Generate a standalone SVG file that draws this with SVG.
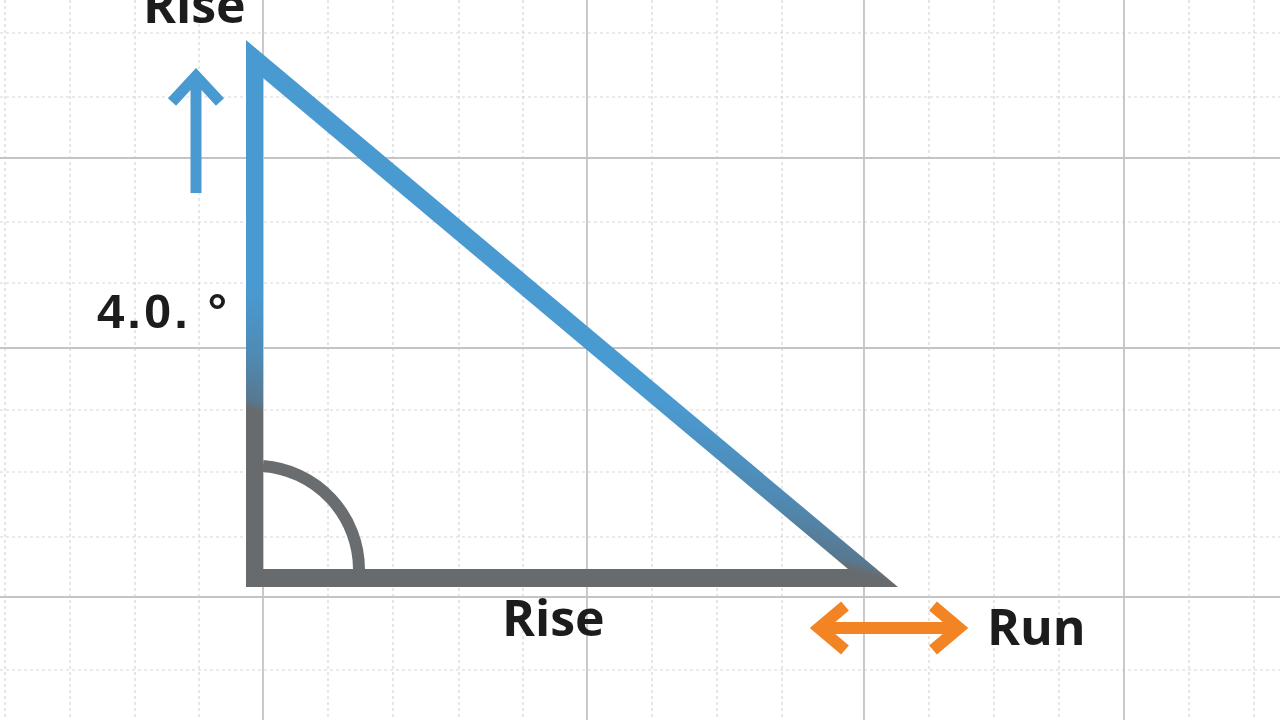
<svg xmlns="http://www.w3.org/2000/svg" width="1280" height="720" viewBox="0 0 1280 720">
  <defs>
    <style>
      .minor { stroke: #d6d6d6; stroke-width: 1.2; stroke-dasharray: 3 3; fill: none; }
      .major { stroke: #c4c4c4; stroke-width: 1.8; fill: none; }
      .label { font-family: "Open Sans", "Noto Sans", sans-serif; font-weight: 700; font-size: 50px; fill: #1c1c1c; }
      .angle { font-family: "Liberation Sans", Arial, sans-serif; font-weight: 700; font-size: 49px; fill: #1c1c1c; }
      .blue { stroke: #4a9ad2; fill: none; }
      .orange { stroke: #f28424; fill: none; }
    </style>
    <linearGradient id="triGrad" gradientUnits="userSpaceOnUse" x1="254" y1="290" x2="224" y2="402">
      <stop offset="0" stop-color="#4a9ad2"/>
      <stop offset="0.55" stop-color="#4f8ab4"/>
      <stop offset="0.92" stop-color="#58788f"/>
      <stop offset="1" stop-color="#686b6e"/>
    </linearGradient>
  </defs>

  <rect width="1280" height="720" fill="#ffffff"/>

  <g id="grid">
    <g class="minor">
      <line x1="5" y1="0" x2="5" y2="720"/>
      <line x1="70" y1="0" x2="70" y2="720"/>
      <line x1="135" y1="0" x2="135" y2="720"/>
      <line x1="199" y1="0" x2="199" y2="720"/>
      <line x1="328" y1="0" x2="328" y2="720"/>
      <line x1="393" y1="0" x2="393" y2="720"/>
      <line x1="459" y1="0" x2="459" y2="720"/>
      <line x1="523" y1="0" x2="523" y2="720"/>
      <line x1="652" y1="0" x2="652" y2="720"/>
      <line x1="717" y1="0" x2="717" y2="720"/>
      <line x1="782" y1="0" x2="782" y2="720"/>
      <line x1="929" y1="0" x2="929" y2="720"/>
      <line x1="994" y1="0" x2="994" y2="720"/>
      <line x1="1059" y1="0" x2="1059" y2="720"/>
      <line x1="1189" y1="0" x2="1189" y2="720"/>
      <line x1="1254" y1="0" x2="1254" y2="720"/>
      <line x1="0" y1="33" x2="1280" y2="33"/>
      <line x1="0" y1="97" x2="1280" y2="97"/>
      <line x1="0" y1="222" x2="1280" y2="222"/>
      <line x1="0" y1="283" x2="1280" y2="283"/>
      <line x1="0" y1="410" x2="1280" y2="410"/>
      <line x1="0" y1="472" x2="1280" y2="472"/>
      <line x1="0" y1="537" x2="1280" y2="537"/>
      <line x1="0" y1="670" x2="1280" y2="670"/>
    </g>
    <g class="major">
      <line x1="263" y1="0" x2="263" y2="720"/>
      <line x1="587" y1="0" x2="587" y2="720"/>
      <line x1="864" y1="0" x2="864" y2="720"/>
      <line x1="1124" y1="0" x2="1124" y2="720"/>
      <line x1="0" y1="158" x2="1280" y2="158"/>
      <line x1="0" y1="348" x2="1280" y2="348"/>
      <line x1="0" y1="597" x2="1280" y2="597"/>
    </g>
  </g>

  <g id="triangle">
    <path d="M246,40 L898,587 L246,587 Z M263,78 L263,569 L848,569 Z" fill="url(#triGrad)" fill-rule="evenodd"/>
  </g>

  <g id="right-angle">
    <path d="M263,466 A104,104 0 0 1 359,569" fill="none" stroke="#6a6d70" stroke-width="12"/>
  </g>

  <g id="connectors">
    <g id="rise-arrow" class="blue" stroke-width="11">
      <line x1="196" y1="76" x2="196" y2="193"/>
      <polyline points="172,102 196,76 220,102" stroke-linejoin="miter" stroke-miterlimit="10"/>
    </g>
    <g id="run-arrow" class="orange" stroke-width="12">
      <line x1="822" y1="628" x2="956" y2="628"/>
      <polyline points="845,606 819,628 845,650"/>
      <polyline points="933,606 959,628 933,650"/>
    </g>
  </g>

  <g id="label-rise-top">
    <text class="label" x="143" y="23">Rise</text>
  </g>
  <g id="label-angle">
    <text class="angle" x="97" y="328" textLength="130" lengthAdjust="spacing">4.0. °</text>
  </g>
  <g id="label-rise-bottom">
    <text class="label" x="502" y="636">Rise</text>
  </g>
  <g id="label-run">
    <text class="label" x="987" y="645">Run</text>
  </g>
</svg>
